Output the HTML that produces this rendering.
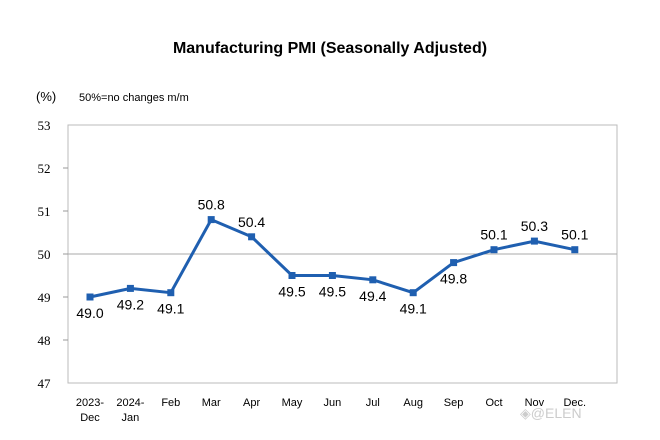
<!DOCTYPE html>
<html><head><meta charset="utf-8"><style>
body{margin:0;background:#fff;}
svg{display:block;font-family:"Liberation Sans",Arial,sans-serif;}
</style></head><body>
<svg id="chart" width="660" height="440">
<text x="330" y="53" text-anchor="middle" font-size="16" font-weight="bold">Manufacturing PMI (Seasonally Adjusted)</text>
<text x="36" y="101" font-size="13">(%)</text>
<text x="79" y="101" font-size="11">50%=no changes m/m</text>
<rect x="68" y="125" width="549" height="258" fill="none" stroke="#bbb"/>
<g id="axes"></g>
<g id="marks"></g>
<text x="520" y="418" font-size="14" fill="#ccc">◈@ELEN</text>
</svg>
<script>
const categories=["2023-\nDec","2024-\nJan","Feb","Mar","Apr","May","Jun","Jul","Aug","Sep","Oct","Nov","Dec."];
const values=[49.0,49.2,49.1,50.8,50.4,49.5,49.5,49.4,49.1,49.8,50.1,50.3,50.1];
const labelPos=["below","below","below","above","above","below","below","below","below","below","above","above","above"];
const yTicks=[47,48,49,50,51,52,53];
const NS="http://www.w3.org/2000/svg";
const x=i=>90+i*40.4;
const y=v=>383-(v-47)*43;
const ax=document.getElementById('axes'),mk=document.getElementById('marks');
function el(t,a,p){const e=document.createElementNS(NS,t);for(const k in a)e.setAttribute(k,a[k]);p.appendChild(e);return e;}
yTicks.forEach(t=>{
 const tx=el('text',{x:44,y:y(t)+5,'text-anchor':'middle','font-size':13,'font-family':'Liberation Serif,serif'},ax);
 tx.textContent=t;
 
 
 if(t>47&&t<53){const l=el('line',{x1:63,x2:68,y1:y(t),y2:y(t),stroke:'#999'},ax);
 
 }
});
const ref=el('line',{x1:68,x2:617,y1:y(50),y2:y(50),stroke:'#aaa'},ax);


categories.forEach((c,i)=>{
 const parts=c.split('\n');
 parts.forEach((p,j)=>{const t=el('text',{x:x(i),y:406+j*15,'text-anchor':'middle','font-size':11},ax);t.textContent=p;
 
 });
});
const line=el('polyline',{points:values.map((v,i)=>x(i)+','+y(v)).join(' '),fill:'none',stroke:'#1f5fb0','stroke-width':3},mk);


values.forEach((v,i)=>{
 const r=el('rect',{x:x(i)-3.5,y:y(v)-3.5,width:7,height:7,fill:'#1f5fb0'},mk);
 
 
 const ly=labelPos[i]==='above'?y(v)-10:y(v)+21;
 const t=el('text',{x:x(i),y:ly,'text-anchor':'middle','font-size':14},mk);
 t.textContent=v.toFixed(1);
 
 
});
</script>
</body></html>
